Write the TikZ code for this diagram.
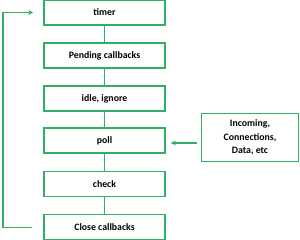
\documentclass[tikz,border=0pt]{standalone}
\usepackage{fontspec}
\setmainfont{Carlito}
\usetikzlibrary{arrows.meta}
\definecolor{grn}{RGB}{46,176,98}
\begin{document}
\begin{tikzpicture}[x=1pt,y=-1pt,
  stage/.style={draw=grn,line width=1.6pt,minimum width=121pt,minimum height=25pt,inner sep=0pt,font=\bfseries\fontsize{9.8}{11}\selectfont,fill=white},
  link/.style={draw=grn,line width=1.4pt},
  arr/.style={link,-{Stealth[length=5pt,width=5pt]}}]
\useasboundingbox (0,0) rectangle (300,240);
\node[stage] (timer) at (104.5,12.5) {timer};
\node[stage] (pend) at (104.5,55.5) {Pending callbacks};
\node[stage] (idle) at (104.5,98.5) {idle, ignore};
\node[stage] (poll) at (104.5,140.5) {poll};
\node[stage] (check) at (104.5,184) {check};
\node[stage] (close) at (104.5,227) {Close callbacks};
\node[stage,minimum width=97pt,minimum height=48pt,align=center,font=\bfseries\fontsize{9.8}{13.5}\selectfont] (inc) at (250,137.5) {Incoming,\\Connections,\\Data, etc};
\draw[link] (timer) -- (pend);
\draw[link] (pend) -- (idle);
\draw[link] (idle) -- (poll);
\draw[link] (poll) -- (check);
\draw[link] (check) -- (close);
\coordinate (lb) at (3,227.5);
\coordinate (lt) at (3,12.5);
\draw[arr] ([xshift=-11pt,yshift=-0.5pt]close.west) -- (lb) -- (lt) -- ([xshift=-10pt]timer.west);
\draw[arr] ([xshift=-4pt,yshift=-2.5pt]inc.west |- poll) -- ([xshift=5pt,yshift=-2.5pt]poll.east);
\end{tikzpicture}
\end{document}
